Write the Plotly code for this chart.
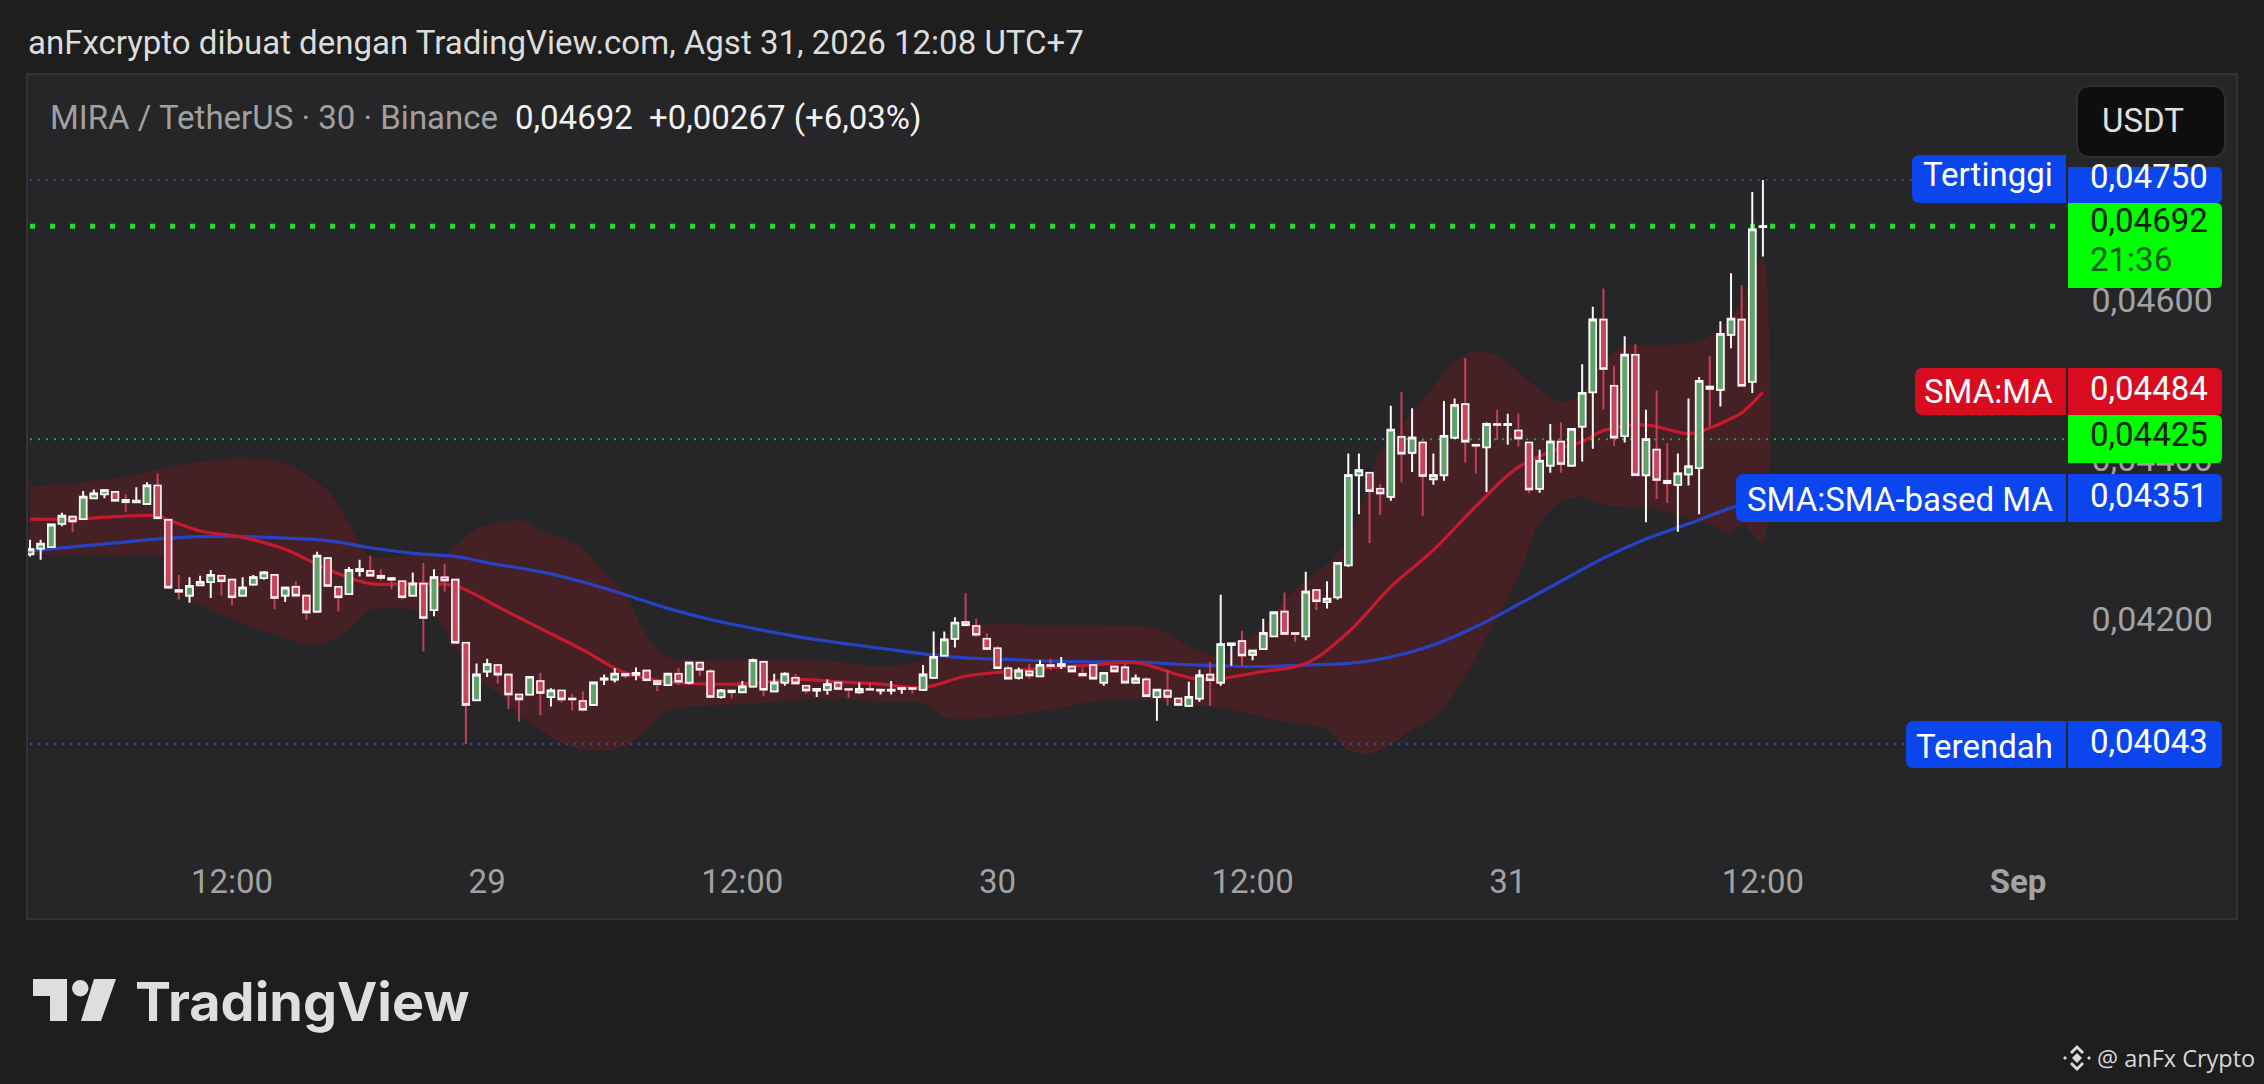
import pandas as pd
import plotly.graph_objects as go

W, H = 2264, 1084
TICK = 0.00001  # prices below are written in ticks of 0.00001

# 30 minute candles, Aug 28 02:30 to Aug 31 12:00
times = pd.date_range("2026-08-28 02:30", periods=164, freq="30min")

opens = [4281, 4288, 4290, 4319, 4328, 4325, 4351, 4356, 4359, 4349,
         4346, 4344, 4367, 4324, 4236, 4229, 4242, 4246, 4254, 4249,
         4229, 4243, 4251, 4255, 4229, 4240, 4229, 4209, 4276, 4240,
         4231, 4260, 4260, 4254, 4251, 4247, 4229, 4244, 4211, 4252,
         4249, 4170, 4098, 4134, 4142, 4130, 4105, 4105, 4122, 4102,
         4110, 4100, 4097, 4092, 4124, 4124, 4131, 4130, 4135, 4122,
         4117, 4131, 4120, 4145, 4134, 4102, 4110, 4108, 4115, 4146,
         4109, 4120, 4126, 4116, 4110, 4111, 4120, 4112, 4108, 4112,
         4110, 4110, 4112, 4113, 4111, 4126, 4154, 4175, 4196, 4191,
         4175, 4163, 4138, 4126, 4134, 4128, 4142, 4141, 4140, 4131,
         4142, 4120, 4140, 4139, 4120, 4124, 4102, 4110, 4100, 4091,
         4100, 4130, 4120, 4167, 4172, 4155, 4162, 4178, 4209, 4182,
         4178, 4236, 4221, 4227, 4267, 4380, 4383, 4363, 4353, 4428,
         4408, 4421, 4375, 4380, 4427, 4469, 4418, 4415, 4444, 4443,
         4436, 4421, 4363, 4392, 4422, 4392, 4441, 4484, 4575, 4492,
         4429, 4531, 4380, 4412, 4373, 4368, 4381, 4389, 4491, 4487,
         4556, 4575, 4497, 4691]
highs = [4299, 4299, 4318, 4333, 4328, 4360, 4362, 4361, 4359, 4356,
         4365, 4371, 4382, 4324, 4255, 4252, 4254, 4261, 4254, 4249,
         4252, 4255, 4260, 4255, 4240, 4247, 4229, 4284, 4276, 4240,
         4265, 4274, 4279, 4262, 4251, 4247, 4258, 4270, 4262, 4269,
         4249, 4170, 4144, 4150, 4142, 4130, 4105, 4127, 4132, 4113,
         4110, 4106, 4109, 4121, 4130, 4138, 4131, 4139, 4135, 4122,
         4132, 4138, 4145, 4145, 4137, 4112, 4110, 4122, 4150, 4146,
         4131, 4133, 4131, 4116, 4112, 4124, 4120, 4112, 4120, 4120,
         4111, 4122, 4113, 4113, 4142, 4184, 4184, 4202, 4232, 4200,
         4182, 4166, 4141, 4139, 4144, 4148, 4150, 4152, 4140, 4139,
         4142, 4132, 4140, 4144, 4130, 4127, 4111, 4136, 4100, 4121,
         4136, 4146, 4230, 4169, 4185, 4160, 4200, 4208, 4233, 4182,
         4259, 4236, 4247, 4269, 4407, 4407, 4383, 4369, 4467, 4484,
         4464, 4425, 4407, 4473, 4476, 4527, 4418, 4446, 4462, 4457,
         4457, 4421, 4412, 4444, 4446, 4438, 4519, 4591, 4614, 4517,
         4554, 4544, 4462, 4486, 4420, 4407, 4476, 4503, 4529, 4573,
         4633, 4618, 4735, 4750]
lows = [4278, 4274, 4290, 4316, 4309, 4325, 4351, 4351, 4348, 4334,
        4346, 4344, 4326, 4239, 4224, 4220, 4242, 4226, 4229, 4217,
        4229, 4243, 4249, 4212, 4221, 4229, 4199, 4209, 4241, 4209,
        4231, 4253, 4254, 4248, 4237, 4224, 4229, 4159, 4203, 4234,
        4170, 4043, 4098, 4127, 4119, 4087, 4071, 4105, 4079, 4090,
        4095, 4085, 4084, 4092, 4117, 4120, 4125, 4123, 4122, 4109,
        4117, 4117, 4118, 4128, 4102, 4100, 4100, 4108, 4115, 4103,
        4109, 4116, 4119, 4106, 4102, 4105, 4112, 4101, 4106, 4111,
        4105, 4105, 4106, 4106, 4111, 4126, 4154, 4164, 4192, 4177,
        4162, 4138, 4125, 4124, 4125, 4128, 4136, 4137, 4134, 4129,
        4125, 4116, 4134, 4120, 4120, 4103, 4072, 4091, 4092, 4091,
        4096, 4091, 4116, 4141, 4141, 4148, 4162, 4177, 4181, 4171,
        4173, 4211, 4213, 4224, 4265, 4331, 4295, 4330, 4348, 4371,
        4384, 4329, 4368, 4373, 4427, 4396, 4382, 4359, 4424, 4418,
        4416, 4357, 4358, 4383, 4383, 4392, 4397, 4413, 4462, 4417,
        4421, 4380, 4321, 4350, 4345, 4309, 4367, 4331, 4441, 4466,
        4539, 4492, 4483, 4654]
closes = [4287, 4294, 4318, 4329, 4322, 4353, 4357, 4361, 4348, 4346,
          4348, 4367, 4326, 4239, 4234, 4241, 4246, 4255, 4247, 4227,
          4239, 4252, 4258, 4226, 4239, 4229, 4208, 4279, 4241, 4227,
          4261, 4262, 4254, 4251, 4249, 4227, 4244, 4201, 4252, 4248,
          4170, 4092, 4130, 4143, 4130, 4105, 4099, 4127, 4107, 4110,
          4099, 4099, 4086, 4120, 4125, 4131, 4129, 4132, 4123, 4118,
          4131, 4121, 4145, 4136, 4102, 4110, 4108, 4115, 4148, 4111,
          4120, 4131, 4119, 4110, 4112, 4118, 4112, 4111, 4112, 4111,
          4111, 4111, 4113, 4112, 4130, 4152, 4174, 4195, 4192, 4180,
          4162, 4138, 4125, 4135, 4129, 4142, 4141, 4143, 4134, 4129,
          4125, 4132, 4134, 4120, 4125, 4103, 4111, 4102, 4092, 4102,
          4129, 4123, 4168, 4169, 4154, 4160, 4182, 4208, 4181, 4181,
          4234, 4222, 4225, 4270, 4380, 4386, 4360, 4357, 4437, 4407,
          4427, 4379, 4380, 4429, 4468, 4422, 4417, 4444, 4443, 4444,
          4426, 4362, 4398, 4422, 4394, 4438, 4483, 4575, 4513, 4427,
          4531, 4380, 4425, 4374, 4370, 4382, 4391, 4498, 4488, 4557,
          4576, 4492, 4688, 4692]

# SMA, read at some of the candles
ma_idx = [0, 4, 8, 12, 13, 16, 20, 24, 28, 32, 36, 40, 44, 48, 52, 56, 60, 64, 68, 72,
          76, 80, 84, 88, 92, 96, 100, 104, 108, 110, 112, 116, 120, 124, 128, 132, 136,
          140, 144, 146, 148, 152, 156, 158, 160, 161, 163]
ma_vals = [4325, 4325, 4328, 4329, 4324, 4310, 4302, 4287, 4262, 4244, 4244, 4241, 4215,
           4188, 4161, 4132, 4121, 4118, 4119, 4124, 4121, 4118, 4114, 4128, 4134, 4139,
           4142, 4145, 4130, 4124, 4125, 4134, 4144, 4183, 4240, 4286, 4341, 4390, 4414,
           4422, 4436, 4443, 4432, 4439, 4451, 4458, 4484]

# SMA-based MA
base_idx = [0, 4, 8, 12, 16, 20, 24, 28, 32, 36, 40, 44, 48, 52, 56, 60, 64, 68, 72, 76, 80,
            84, 88, 92, 96, 100, 104, 108, 112, 116, 120, 124, 128, 132, 136, 140, 144,
            148, 152, 156, 160, 163]
base_vals = [4285, 4290, 4295, 4300, 4303, 4303, 4301, 4298, 4289, 4282, 4278, 4268, 4259,
             4246, 4230, 4213, 4199, 4188, 4178, 4170, 4163, 4156, 4151, 4149, 4147, 4146,
             4146, 4143, 4141, 4140, 4142, 4144, 4152, 4167, 4190, 4218, 4247, 4276, 4300,
             4319, 4339, 4351]

# band around the SMA
upper_idx = [0, 4, 8, 12, 16, 20, 24, 28, 30, 32, 36, 39, 40, 42, 44, 46, 48, 50, 52, 53, 56,
             58, 60, 64, 68, 72, 76, 80, 84, 85, 86, 87, 88, 92, 96, 100, 104, 106, 108, 110,
             112, 114, 116, 118, 120, 122, 124, 126, 127, 128, 130, 132, 134, 136, 138, 140,
             142, 144, 146, 147, 148, 150, 152, 156, 158, 160, 161, 163]
upper_vals = [4366, 4370, 4376, 4387, 4397, 4401, 4395, 4361, 4320, 4278, 4280, 4280, 4291,
              4313, 4320, 4324, 4311, 4302, 4289, 4274, 4228, 4180, 4152, 4149, 4149, 4149,
              4146, 4140, 4148, 4161, 4180, 4190, 4193, 4193, 4192, 4192, 4191, 4188, 4173,
              4159, 4153, 4167, 4190, 4224, 4249, 4268, 4299, 4374, 4410, 4426, 4458, 4491,
              4522, 4536, 4530, 4510, 4487, 4472, 4482, 4506, 4524, 4543, 4543, 4545, 4554,
              4579, 4600, 4654]
lower_idx = [0, 4, 8, 12, 13, 14, 16, 20, 24, 26, 28, 30, 32, 36, 38, 40, 42, 44, 46, 48, 50,
             52, 54, 56, 58, 60, 64, 68, 72, 76, 80, 84, 86, 88, 92, 96, 100, 104, 108, 112,
             116, 118, 120, 122, 124, 126, 128, 130, 132, 134, 136, 138, 140, 142, 144, 146,
             148, 150, 152, 156, 158, 160, 161, 163]
lower_vals = [4280, 4280, 4280, 4278, 4274, 4232, 4217, 4194, 4176, 4168, 4170, 4186, 4211,
              4211, 4203, 4165, 4123, 4107, 4081, 4061, 4044, 4036, 4035, 4040, 4061, 4086,
              4091, 4093, 4098, 4099, 4096, 4094, 4077, 4074, 4078, 4086, 4096, 4099, 4094,
              4088, 4077, 4071, 4067, 4061, 4035, 4030, 4042, 4061, 4076, 4107, 4152, 4201,
              4253, 4320, 4347, 4353, 4343, 4340, 4339, 4326, 4318, 4308, 4320, 4295]

high_price, low_price = 0.04750, 0.04043
last_price, prev_price = 0.04692, 0.04425

x_ticks = ["2026-08-28 12:00", "2026-08-29 00:00", "2026-08-29 12:00", "2026-08-30 00:00",
           "2026-08-30 12:00", "2026-08-31 00:00", "2026-08-31 12:00", "2026-09-01 00:00"]
x_labels = ["12:00", "29", "12:00", "30", "12:00", "31", "12:00", "<b>Sep</b>"]
y_ticks = [0.04200, 0.04400, 0.04600]

BG = "#1e1e1e"
PANEL = "#262527"
BLUE = "#0b45ee"
RED = "#d90c1f"
GREEN = "#00ff00"
FONT = "Roboto"


def prices(ticks):
    return [round(v * TICK, 5) for v in ticks]


def fx(px):
    return px / W


def fy(px):
    return 1 - px / H


def box_path(x0, y0, x1, y1, left=8, right=8):
    # rounded box, pixel input, paper fractions output
    return (f"M{fx(x0 + left)},{fy(y0)} L{fx(x1 - right)},{fy(y0)} "
            f"Q{fx(x1)},{fy(y0)} {fx(x1)},{fy(y0 + right)} L{fx(x1)},{fy(y1 - right)} "
            f"Q{fx(x1)},{fy(y1)} {fx(x1 - right)},{fy(y1)} L{fx(x0 + left)},{fy(y1)} "
            f"Q{fx(x0)},{fy(y1)} {fx(x0)},{fy(y1 - left)} L{fx(x0)},{fy(y0 + left)} "
            f"Q{fx(x0)},{fy(y0)} {fx(x0 + left)},{fy(y0)} Z")


def poly_path(points):
    return "M" + " L".join(f"{fx(x)},{fy(y)}" for x, y in points) + " Z"


def path_shape(path, color, line=None, layer="above"):
    return dict(type="path", xref="paper", yref="paper", path=path, fillcolor=color,
                line=dict(width=2 if line else 0, color=line or color), layer=layer)


def note(text, x, y, color="#ffffff", size=33, anchor="right", family=FONT):
    return dict(text=text, x=fx(x), y=fy(y), xref="paper", yref="paper", showarrow=False,
                xanchor=anchor, yanchor="middle", font=dict(color=color, size=size, family=family))


fig = go.Figure()

# band and moving averages go on the base axes so the candles end up on top
band_x = list(times[upper_idx]) + list(times[lower_idx])[::-1]
band_y = prices(upper_vals) + prices(lower_vals)[::-1]
fig.add_trace(go.Scatter(x=band_x, y=band_y, fill="toself", fillcolor="#452024", mode="lines",
                         line=dict(width=0, shape="spline", smoothing=0.7), hoverinfo="skip"))

line_start = times[0]
fig.add_trace(go.Scatter(x=[line_start, "2026-09-01 05:00"], y=[high_price] * 2, mode="lines",
                         line=dict(color="#2f46a8", width=2, dash="2px,6px")))
fig.add_trace(go.Scatter(x=[line_start, "2026-09-01 05:00"], y=[low_price] * 2, mode="lines",
                         line=dict(color="#2f46a8", width=2, dash="2px,6px")))
fig.add_trace(go.Scatter(x=[line_start, "2026-09-01 05:30"], y=[prev_price] * 2, mode="lines",
                         line=dict(color="#22a833", width=2, dash="2px,6px")))
fig.add_trace(go.Scatter(x=[line_start, "2026-09-01 05:00"], y=[last_price] * 2, mode="lines",
                         line=dict(color="#22dd33", width=5, dash="5px,15px")))

fig.add_trace(go.Scatter(x=times[base_idx], y=prices(base_vals), mode="lines",
                         line=dict(color="#2543c4", width=3.2, shape="spline", smoothing=1)))
fig.add_trace(go.Scatter(x=times[ma_idx], y=prices(ma_vals), mode="lines",
                         line=dict(color="#c81a2e", width=3.2, shape="spline", smoothing=1)))

# wicks: white on up candles, red on down candles
fig.add_trace(go.Candlestick(x=times, open=prices(opens), high=prices(highs), low=prices(lows),
                             close=prices(closes), yaxis="y2", whiskerwidth=0,
                             increasing=dict(line=dict(color="#f8f8f8", width=2), fillcolor="#5fa36a"),
                             decreasing=dict(line=dict(color="#c2405a", width=2), fillcolor="#c8455c")))
# bodies with their white outline
body_hi = [max(o, c) for o, c in zip(opens, closes)]
body_lo = [min(o, c) for o, c in zip(opens, closes)]
fig.add_trace(go.Candlestick(x=times, open=prices(opens), high=prices(body_hi), low=prices(body_lo),
                             close=prices(closes), yaxis="y2", whiskerwidth=0,
                             increasing=dict(line=dict(color="#f8f8f8", width=1.6), fillcolor="#5fa36a"),
                             decreasing=dict(line=dict(color="#f8f8f8", width=1.6), fillcolor="#c8455c")))

y_range = [0.038249, 0.048816]
shapes = [
    path_shape(box_path(2077, 86, 2225, 157, 14, 14), "#0e0e0f", line="#2f2f31"),
    path_shape(box_path(1912, 155, 2066, 203, 8, 0), BLUE),
    path_shape(box_path(2068, 167, 2222, 203, 0, 6), BLUE),
    path_shape(box_path(2068, 203, 2222, 288, 0, 6), GREEN),
    path_shape(box_path(1915, 368, 2066, 415, 8, 0), RED),
    path_shape(box_path(2068, 368, 2222, 415, 0, 6), RED),
    path_shape(box_path(2068, 415, 2222, 463, 0, 6), GREEN),
    path_shape(box_path(1736, 474, 2066, 522, 8, 0), BLUE),
    path_shape(box_path(2068, 474, 2222, 522, 0, 6), BLUE),
    path_shape(box_path(1906, 721, 2066, 768, 8, 0), BLUE),
    path_shape(box_path(2068, 721, 2222, 768, 0, 6), BLUE),
    # TradingView mark
    path_shape(poly_path([(33, 979), (67, 979), (67, 1021), (50, 1021), (50, 996), (33, 996)]), "#dedede"),
    path_shape(poly_path([(94, 979), (116, 979), (101, 1021), (81, 1021)]), "#dedede"),
    dict(type="circle", xref="paper", yref="paper", x0=fx(72), x1=fx(88.5), y0=fy(980), y1=fy(996.5),
         fillcolor="#dedede", line=dict(width=0), layer="above"),
    # Binance mark
    path_shape(poly_path([(2077, 1053), (2082, 1058), (2077, 1063), (2072, 1058)]), "#dcdcdc"),
    path_shape(poly_path([(2065, 1056), (2067, 1058), (2065, 1060), (2063, 1058)]), "#dcdcdc"),
    path_shape(poly_path([(2089, 1056), (2091, 1058), (2089, 1060), (2087, 1058)]), "#dcdcdc"),
    path_shape(poly_path([(2077, 1045), (2084, 1052), (2082, 1054), (2077, 1049), (2072, 1054), (2070, 1052)]), "#dcdcdc"),
    path_shape(poly_path([(2077, 1071), (2084, 1064), (2082, 1062), (2077, 1067), (2072, 1062), (2070, 1064)]), "#dcdcdc"),
]

annotations = [
    note("anFxcrypto dibuat dengan TradingView.com, Agst 31, 2026 12:08 UTC+7", 26, 43, "#dcdcdc", 33, "left"),
    note("MIRA / TetherUS · 30 · Binance", 48, 118, "#a0a0a0", 33, "left"),
    note("0,04692", 513, 118, "#f2f2f2", 33, "left"),
    note("+0,00267 (+6,03%)", 647, 118, "#f2f2f2", 33, "left"),
    note("USDT", 2143, 120, "#e0e0e0", 33, "center"),
    note("Tertinggi", 2055, 175),
    note("0,04750", 2210, 176),
    note("0,04692", 2210, 221, "#06200a"),
    note("21:36", 2174, 260, "#0b5c12"),
    note("SMA:MA", 2055, 391),
    note("0,04484", 2210, 388),
    note("0,04425", 2210, 434, "#06200a"),
    note("SMA:SMA-based MA", 2055, 500),
    note("0,04351", 2210, 495),
    note("Terendah", 2055, 746),
    note("0,04043", 2210, 741),
    note("<b>TradingView</b>", 133, 1001, "#dedede", 54, "left", "Inter"),
    note("@ anFx Crypto", 2257, 1058, "#d8d8d8", 23.5, "right", "Open Sans"),
]

fig.update_layout(
    width=W, height=H, paper_bgcolor=BG, plot_bgcolor=PANEL, showlegend=False,
    margin=dict(l=0, r=0, t=0, b=0, pad=0), separators=",.", boxgap=0.38, boxgroupgap=0,
    font=dict(family=FONT), shapes=shapes, annotations=annotations,
    xaxis=dict(type="date", domain=[fx(28), fx(2236)], range=["2026-08-28 02:24:18", "2026-09-01 10:15"],
               rangeslider=dict(visible=False), showgrid=False, zeroline=False, tickmode="array",
               tickvals=x_ticks, ticktext=x_labels, ticks="", ticklabelposition="inside",
               ticklabelstandoff=22, tickfont=dict(size=33, color="#a2a2a2", family=FONT),
               showline=True, mirror=True, linecolor="#333335", linewidth=2),
    yaxis=dict(domain=[fy(918), fy(75)], range=y_range, side="right", showgrid=False, zeroline=False,
               tickmode="array", tickvals=y_ticks, tickformat=".5f", ticks="", ticklabelposition="inside",
               ticklabelstandoff=27, tickfont=dict(size=34, color="#a2a2a2", family=FONT),
               showline=True, mirror=True, linecolor="#333335", linewidth=2),
    yaxis2=dict(domain=[fy(918), fy(75)], range=y_range, overlaying="y", visible=False),
)

fig.write_html("out.html", config={"displayModeBar": False}, post_script="document.body.style.margin='0';")
